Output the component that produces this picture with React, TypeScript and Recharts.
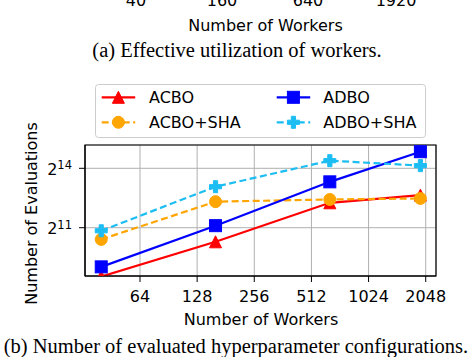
import { LineChart, Line, XAxis, YAxis, CartesianGrid, Legend, ReferenceArea } from 'recharts';

// Number of workers (x) and evaluated configurations per method (y, log2 scale)
const workers = [40, 160, 640, 1920];
const acbo = [370, 1250, 4900, 6400];
const acboSha = [1360, 5100, 5500, 5700];
const adbo = [520, 2200, 10200, 29300];
const adboSha = [1840, 8600, 21400, 18000];

const xTicks = [64, 128, 256, 512, 1024, 2048];
const yTicks = [2048, 16384];
const yTickExponents = ['11', '14'];

// bits of the upper panel (a) that are cropped into the picture
const upperTickLabels = ['40', '160', '640', '1920'];
const upperTickCenters = [136, 222, 308, 396];

const xDomain: [number, number] = [32.85, 2320];
const yDomain: [number, number] = [377.7, 37040];

const FONT = 'DejaVu Sans';
const SERIF = 'Liberation Serif';

type Shape = 'triangle' | 'square' | 'circle' | 'plus';

const series: { key: string; name: string; color: string; shape: Shape; dashed: boolean }[] = [
  { key: 'acbo', name: 'ACBO', color: '#ff0000', shape: 'triangle', dashed: false },
  { key: 'acboSha', name: 'ACBO+SHA', color: '#ffa500', shape: 'circle', dashed: true },
  { key: 'adbo', name: 'ADBO', color: '#0000ff', shape: 'square', dashed: false },
  { key: 'adboSha', name: 'ADBO+SHA', color: '#1cbdf2', shape: 'plus', dashed: true },
];

const data = workers.map((w, i) => ({
  workers: w,
  acbo: acbo[i],
  acboSha: acboSha[i],
  adbo: adbo[i],
  adboSha: adboSha[i],
}));

function Marker({ shape, x, y, color }: { shape: Shape; x: number; y: number; color: string }) {
  const s = 6;
  if (shape === 'triangle') {
    return <polygon points={`${x},${y - s} ${x - s},${y + s} ${x + s},${y + s}`} fill={color} stroke={color} strokeWidth={1} />;
  }
  if (shape === 'square') {
    return <rect x={x - s} y={y - s} width={2 * s} height={2 * s} fill={color} stroke={color} strokeWidth={1} />;
  }
  if (shape === 'circle') {
    return <circle cx={x} cy={y} r={s} fill={color} stroke={color} strokeWidth={1} />;
  }
  const a = 2.1;
  const pts = [
    [-a, -s], [a, -s], [a, -a], [s, -a], [s, a], [a, a],
    [a, s], [-a, s], [-a, a], [-s, a], [-s, -a], [-a, -a],
  ].map(([dx, dy]) => `${x + dx},${y + dy}`).join(' ');
  return <polygon points={pts} fill={color} stroke={color} strokeWidth={1} />;
}

function XTick({ x, y, payload }: any) {
  return (
    <text x={x} y={y + 17.5} textAnchor="middle" fontSize={16} fontFamily={FONT} fill="#000">
      {payload.value}
    </text>
  );
}

function YTick({ x, y, payload }: any) {
  const exp = yTickExponents[yTicks.indexOf(payload.value)];
  return (
    <text x={x - 5} y={y + 6.7} textAnchor="end" fontSize={16} fontFamily={FONT} fill="#000">
      2<tspan dy={-5.7} fontSize={11.5}>{exp}</tspan>
    </text>
  );
}

function LegendBox() {
  const rows = [13.3, 38.3];
  const lineX = [6.7, 181.7];
  const textX = [54, 228.3];
  return (
    <svg width={331} height={54} style={{ display: 'block' }}>
      <rect x={0.5} y={0.5} width={330} height={53} rx={3} fill="rgba(255,255,255,0.8)" stroke="#cccccc" />
      {series.map((s, i) => {
        const col = Math.floor(i / 2);
        const cy = rows[i % 2];
        const x0 = lineX[col];
        return (
          <g key={s.key}>
            <line x1={x0} x2={x0 + 33.5} y1={cy} y2={cy} stroke={s.color} strokeWidth={2.2}
              strokeDasharray={s.dashed ? '7 3.5' : undefined} />
            <Marker shape={s.shape} x={x0 + 16.7} y={cy} color={s.color} />
            <text x={textX[col]} y={cy + 5.8} fontSize={16} fontFamily={FONT} fill="#000">{s.name}</text>
          </g>
        );
      })}
    </svg>
  );
}

export default function App() {
  return (
    <div style={{ position: 'absolute', left: 0, top: 0, width: 474, height: 357, background: '#fff', overflow: 'hidden' }}>
      <LineChart width={474} height={357} data={data} margin={{ top: 145, right: 38, bottom: 0, left: 0 }}>
        <CartesianGrid stroke="#b0b0b0" strokeWidth={1} />
        <XAxis
          dataKey="workers"
          type="number"
          scale="log"
          domain={xDomain}
          allowDataOverflow
          ticks={xTicks}
          interval={0}
          height={81}
          tickSize={6}
          tick={<XTick />}
          tickLine={{ stroke: '#000' }}
          axisLine={{ stroke: '#000' }}
        />
        <YAxis
          type="number"
          scale="log"
          domain={yDomain}
          allowDataOverflow
          ticks={yTicks}
          interval={0}
          width={85}
          tickSize={6}
          tick={<YTick />}
          tickLine={{ stroke: '#000' }}
          axisLine={{ stroke: '#000' }}
        />
        <ReferenceArea x1={xDomain[0]} x2={xDomain[1]} y1={yDomain[0]} y2={yDomain[1]}
          fill="none" stroke="#000" strokeWidth={1.2} ifOverflow="visible" />
        {series.map((s) => (
          <Line
            key={s.key}
            dataKey={s.key}
            name={s.name}
            stroke={s.color}
            strokeWidth={2.2}
            strokeDasharray={s.dashed ? '7 3.5' : undefined}
            isAnimationActive={false}
            dot={(p: any) => (
              <Marker key={`${s.key}-${p.index}`} shape={s.shape} x={p.cx} y={p.cy} color={s.color} />
            )}
            activeDot={false}
          />
        ))}
        <Legend
          layout="vertical"
          align="center"
          verticalAlign="middle"
          content={<LegendBox />}
          wrapperStyle={{ position: 'absolute', left: 95, top: 84, width: 331, height: 54 }}
        />
      </LineChart>

      <svg width={474} height={357} style={{ position: 'absolute', left: 0, top: 0, pointerEvents: 'none' }}>
        {upperTickLabels.map((t, i) => (
          <text key={t} x={upperTickCenters[i]} y={6} textAnchor="middle" fontSize={16} fontFamily={FONT} fill="#000">{t}</text>
        ))}
        <text x={265.5} y={30.5} textAnchor="middle" fontSize={16} fontFamily={FONT} fill="#000">Number of Workers</text>
        <text x={237} y={56.7} textAnchor="middle" fontSize={20.5} fontFamily={SERIF} fill="#000">(a) Effective utilization of workers.</text>
        <text transform="translate(36.5,213.5) rotate(-90)" textAnchor="middle" fontSize={16} fontFamily={FONT} fill="#000">Number of Evaluations</text>
        <text x={261} y={325} textAnchor="middle" fontSize={16} fontFamily={FONT} fill="#000">Number of Workers</text>
        <text x={236} y={352.7} textAnchor="middle" fontSize={20.5} fontFamily={SERIF} fill="#000">(b) Number of evaluated hyperparameter configurations.</text>
      </svg>
    </div>
  );
}
